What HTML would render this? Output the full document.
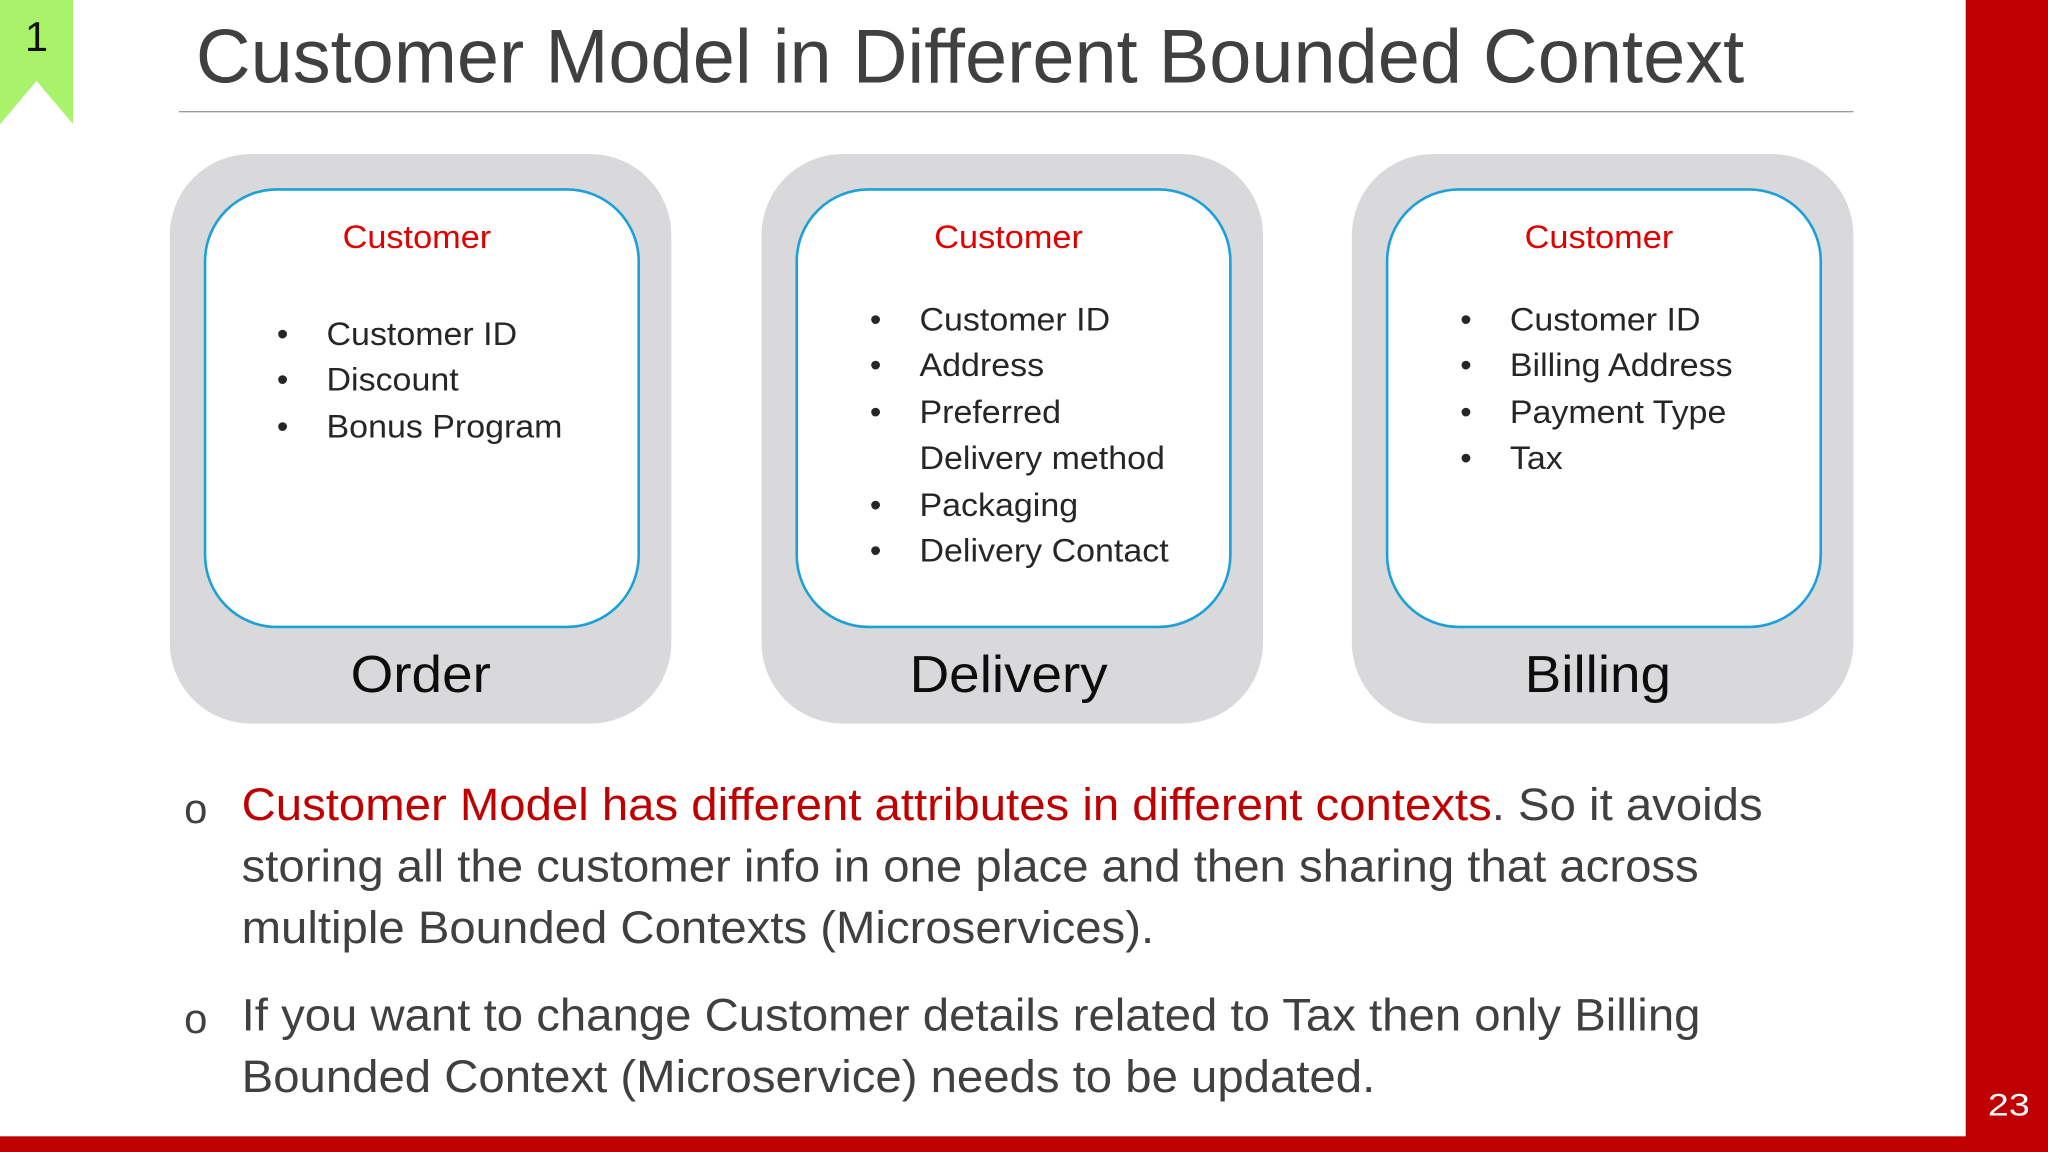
<!DOCTYPE html>
<html><head><meta charset="utf-8"><style>
*{margin:0;padding:0;box-sizing:border-box}
html,body{width:2048px;height:1152px;overflow:hidden;background:#fff}
#w{position:absolute;left:0;top:0;width:1568px;height:882px;transform:scale(1.30612);transform-origin:0 0;font-family:"Liberation Sans",sans-serif;color:#262626}
.a{position:absolute;white-space:nowrap}
.n{display:inline-block;transform:scaleX(1.04);transform-origin:0 50%}
.c{display:inline-block;transform:scaleX(1.05);transform-origin:50% 50%}
.g{position:absolute;background:#d9d9db;border-radius:62px;width:384px;height:436px;top:118px}
.i{position:absolute;background:#fff;border:2px solid #1ba1d8;border-radius:56px;width:334px;height:337px;top:144px}
.cu{position:absolute;width:334px;text-align:center;color:#e00000;font-size:25px;top:168px}
.lb{position:absolute;width:384px;text-align:center;font-size:40px;top:495px;color:#0d0d0d}
.li{position:absolute;font-size:25px;line-height:35.4px}
.li div{position:relative;padding-left:38px;white-space:nowrap}
.li div span.b{position:absolute;left:0}
.bt{position:absolute;left:185px;font-size:34.5px;line-height:47px;color:#404040;white-space:nowrap}
</style></head><body><div id="w">
<svg class="a" style="left:0;top:0" width="56" height="96"><polygon points="0,0 56,0 56,95 28,62 0,95" fill="#a9f36b"/></svg>
<div class="a" style="left:19px;top:10px;font-size:32px;color:#111">1</div>
<div class="a" style="left:150px;top:10px;font-size:58px;color:#404040"><span class="n" style="transform:scaleX(1.0)">Customer Model in Different Bounded Context</span></div>
<div class="a" style="left:137px;top:85px;width:1282px;height:1px;background:#9a9a9a"></div>
<div class="a" style="left:1505px;top:0;width:63px;height:882px;background:#c00000"></div>
<div class="a" style="left:0;top:870px;width:1568px;height:12px;background:#c00000"></div>
<div class="a" style="left:1522px;top:833px;font-size:24px;color:#fff"><span class="n" style="transform:scaleX(1.2)">23</span></div>

<div class="g" style="left:130px"></div><div class="g" style="left:583px"></div><div class="g" style="left:1035px"></div>
<div class="i" style="left:156px"></div><div class="i" style="left:609px"></div><div class="i" style="left:1061px"></div>
<div class="cu" style="left:152px"><span class="c">Customer</span></div>
<div class="cu" style="left:605px"><span class="c">Customer</span></div>
<div class="cu" style="left:1057px"><span class="c">Customer</span></div>
<div class="lb" style="left:130px"><span class="c">Order</span></div>
<div class="lb" style="left:580px"><span class="c">Delivery</span></div>
<div class="lb" style="left:1031px"><span class="c">Billing</span></div>

<div class="li" style="left:212px;top:239px">
<div><span class="b">•</span><span class="n">Customer ID</span></div>
<div><span class="b">•</span><span class="n">Discount</span></div>
<div><span class="b">•</span><span class="n">Bonus Program</span></div></div>
<div class="li" style="left:666px;top:228px">
<div><span class="b">•</span><span class="n">Customer ID</span></div>
<div><span class="b">•</span><span class="n">Address</span></div>
<div><span class="b">•</span><span class="n">Preferred</span></div>
<div><span class="n">Delivery method</span></div>
<div><span class="b">•</span><span class="n">Packaging</span></div>
<div><span class="b">•</span><span class="n">Delivery Contact</span></div></div>
<div class="li" style="left:1118px;top:228px">
<div><span class="b">•</span><span class="n">Customer ID</span></div>
<div><span class="b">•</span><span class="n">Billing Address</span></div>
<div><span class="b">•</span><span class="n">Payment Type</span></div>
<div><span class="b">•</span><span class="n">Tax</span></div></div>

<div class="a" style="left:141px;top:601px;font-size:32px;color:#404040">o</div>
<div class="bt" style="top:594px"><span class="n" style="transform:scaleX(1.05)"><span style="color:#c00000">Customer Model has different attributes in different contexts</span>. So it avoids<br>storing all the customer info in one place and then sharing that across<br>multiple Bounded Contexts (Microservices).</span></div>
<div class="a" style="left:141px;top:762px;font-size:32px;color:#404040">o</div>
<div class="bt" style="top:755px"><span class="n" style="transform:scaleX(1.05)">If you want to change Customer details related to Tax then only Billing<br>Bounded Context (Microservice) needs to be updated.</span></div>
</div></body></html>
